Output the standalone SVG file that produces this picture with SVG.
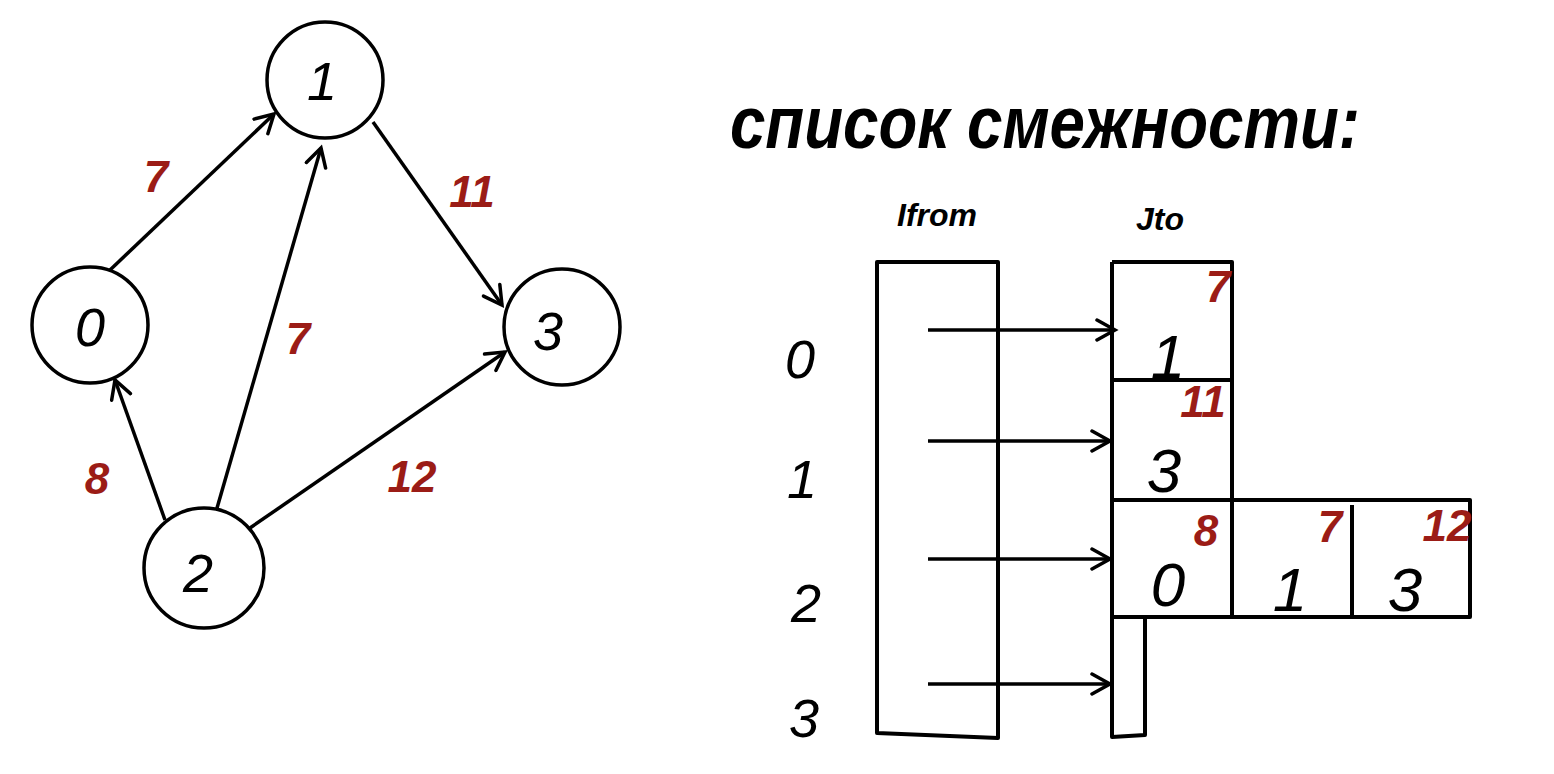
<svg xmlns="http://www.w3.org/2000/svg" width="1554" height="774" viewBox="0 0 1554 774">
<style>
.n{fill:#fff;stroke:#000;stroke-width:3.5}
.e{stroke:#000;stroke-width:3.5;fill:none;marker-end:url(#ah)}
.b{stroke:#000;stroke-width:4;fill:none;stroke-linejoin:round}
.t{font-family:"Liberation Sans",sans-serif;font-style:italic;fill:#000;text-anchor:middle}
.big{font-size:54px}
.w{font-family:"Liberation Sans",sans-serif;font-style:italic;font-weight:bold;fill:#9b1c16;text-anchor:middle;font-size:44px}
.s{font-size:32px;font-weight:bold}
</style>
<defs>
<marker id="ah" markerWidth="24" markerHeight="24" refX="20" refY="12" orient="auto" markerUnits="userSpaceOnUse">
<path d="M2,2 L20,12 L2,22" fill="none" stroke="#000" stroke-width="3.5" stroke-linecap="round"/>
</marker>
</defs>
<rect width="1554" height="774" fill="#fff"/>
<g id="connectors">
<line class="e" x1="110" y1="270" x2="274" y2="114"/>
<line class="e" x1="215" y1="515" x2="321" y2="148"/>
<line class="e" x1="373" y1="122" x2="502" y2="305"/>
<line class="e" x1="250" y1="528" x2="505" y2="352"/>
<line class="e" x1="165" y1="520" x2="115" y2="380"/>
<line class="e" x1="928" y1="330" x2="1115" y2="330"/>
<line class="e" x1="928" y1="441" x2="1110" y2="441"/>
<line class="e" x1="928" y1="559" x2="1110" y2="559"/>
<line class="e" x1="928" y1="684" x2="1110" y2="684"/>
</g>
<g id="node1"><circle class="n" cx="325" cy="80" r="58"/><text class="t big" x="322" y="100">1</text></g>
<g id="node0"><circle class="n" cx="90" cy="325" r="58"/><text class="t big" x="90" y="346">0</text></g>
<g id="node3"><circle class="n" cx="562" cy="327" r="58"/><text class="t big" x="548" y="350">3</text></g>
<g id="node2"><circle class="n" cx="204" cy="568" r="60"/><text class="t big" x="198" y="592">2</text></g>
<g id="weights">
<text class="w" x="156" y="192">7</text>
<text class="w" x="298" y="354">7</text>
<text class="w" x="472" y="207">11</text>
<text class="w" x="412" y="492">12</text>
<text class="w" x="97" y="494">8</text>
</g>
<g id="title">
<text class="t" x="1045" y="148" font-size="74" font-weight="bold" textLength="630" lengthAdjust="spacingAndGlyphs">список  смежности:</text>
<text class="t s" x="937" y="226">Ifrom</text>
<text class="t s" x="1160" y="230">Jto</text>
</g>
<g id="ifrom"><path class="b" d="M877,262 L998,262 L998,738 L877,733 Z"/></g>
<g id="jto">
<path class="b" d="M1112,262 L1232,262 L1232,500 M1112,262 L1112,737 L1145,735 L1145,617"/>
<path class="b" d="M1112,380 L1232,380 M1112,500 L1470,500 L1470,617 L1112,617 M1232,500 L1232,617 M1352,505 L1352,617"/>
</g>
<g id="rowlabels">
<text class="t big" x="800" y="378">0</text>
<text class="t big" x="802" y="498">1</text>
<text class="t big" x="806" y="622">2</text>
<text class="t big" x="804" y="737">3</text>
</g>
<g id="cells">
<text class="t" x="1168" y="378" font-size="62">1</text>
<text class="w" x="1218" y="302" font-size="28">7</text>
<text class="t" x="1164" y="492" font-size="62">3</text>
<text class="w" x="1203" y="417" font-size="30">11</text>
<text class="t" x="1168" y="606" font-size="62">0</text>
<text class="w" x="1206" y="546" font-size="34">8</text>
<text class="t" x="1290" y="611" font-size="62">1</text>
<text class="w" x="1330" y="542" font-size="30">7</text>
<text class="t" x="1405" y="611" font-size="62">3</text>
<text class="w" x="1447" y="541" font-size="30">12</text>
</g>
</svg>
